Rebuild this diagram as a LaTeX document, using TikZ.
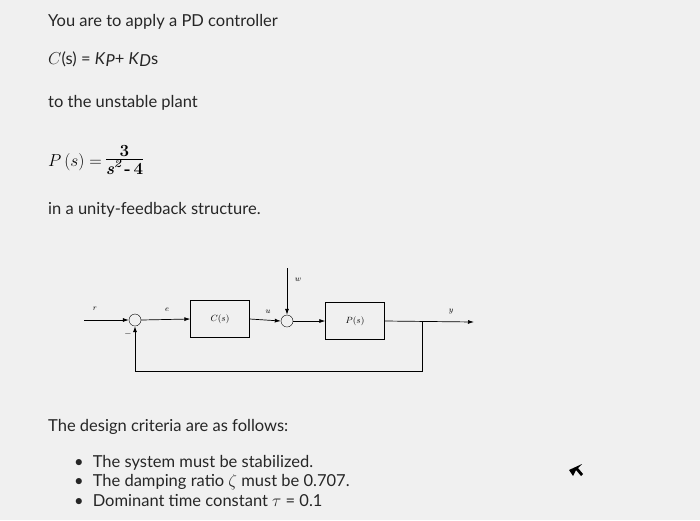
\documentclass[tikz,border=0pt]{standalone}
\usepackage{fontspec}
\setmainfont{Lato}
\newfontfamily\lmserif{Latin Modern Roman}
\usetikzlibrary{arrows.meta}
\begin{document}
\begin{tikzpicture}[x=1pt,y=-1pt,
  txt/.style={anchor=west,inner sep=0pt,font=\fontsize{16.5}{19}\selectfont,text=black!85},
  blk/.style={draw,minimum width=59pt,minimum height=37pt,inner sep=0pt,font=\fontsize{9}{10}\selectfont},
  sumj/.style={draw,circle,minimum size=12pt,inner sep=0pt},
  sig/.style={-{Latex[length=6pt,width=4pt]},line width=0.7pt},
  lab/.style={font=\fontsize{8}{9}\selectfont}]
\fill[black!6] (0,0) rectangle (700,520);
\useasboundingbox (0,0) rectangle (700,520);
\node[txt] (t1) at (48,22) {You are to apply a PD controller};
\node[txt] (t2) at (48,59) {$C$(s) = \textit{K}\raisebox{-2pt}{\textit{P}}+ \textit{K}\raisebox{-2pt}{\textit{D}}s};
\node[txt] (t3) at (48,103) {to the unstable plant};
\node[anchor=west,inner sep=0pt,font=\fontsize{17}{20}\selectfont] (t4) at (48,160) {$P\left(s\right)=$\,\raisebox{3pt}{$\frac{\mbox{\lmserif\bfseries 3}}{\mbox{\lmserif\bfseries\itshape s\textsuperscript{2}\,\upshape-\,4}}$}};
\node[txt] (t5) at (48,210) {in a unity-feedback structure.};
\node[txt] (t6) at (48,427) {The design criteria are as follows:};
\node[txt] (b1) at (74,463) {\textbullet\hspace{9pt}The system must be stabilized.};
\node[txt] (b2) at (74,482) {\textbullet\hspace{9pt}The damping ratio $\zeta$ must be 0.707.};
\node[txt] (b3) at (74,501) {\textbullet\hspace{9pt}Dominant time constant $\tau$ = 0.1};
% block diagram
\coordinate (rin) at (84,320);
\node[sumj] (s1) at (135,320) {};
\node[blk] (C) at (220,319) {$C(s)$};
\node[sumj] (s2) at (287,321) {};
\node[blk] (P) at (355,321) {$P(s)$};
\coordinate (win) at (287,268);
\coordinate (br) at (422,322);
\coordinate (yout) at (474,322);
\draw[sig] (rin) -- (s1.west);
\draw[sig] (s1.east) -- (C.west);
\draw[sig] (C.east) -- (s2.west);
\draw[sig] (win) -- (s2.north);
\draw[sig] (s2.east) -- (P.west);
\draw[sig] (P.east) -- (yout);
\draw[sig] (br) -- ++(0,49) -| (s1.south);
\node[lab] (lr) at (95,309) {$r$};
\node[lab] (le) at (167,310) {$e$};
\node[lab] (lu) at (268,312) {$u$};
\node[lab] (lw) at (298,280) {$w$};
\node[lab] (ly) at (451,312) {$y$};
\node[font=\fontsize{9}{9}\selectfont] (lm) at (128,334) {$-$};
% cursor
\fill[black] (569,470) -- (582,464) -- (578,468) -- (583,474) -- (581,476) -- (576,470) -- (573,476) -- cycle;
\end{tikzpicture}
\end{document}
